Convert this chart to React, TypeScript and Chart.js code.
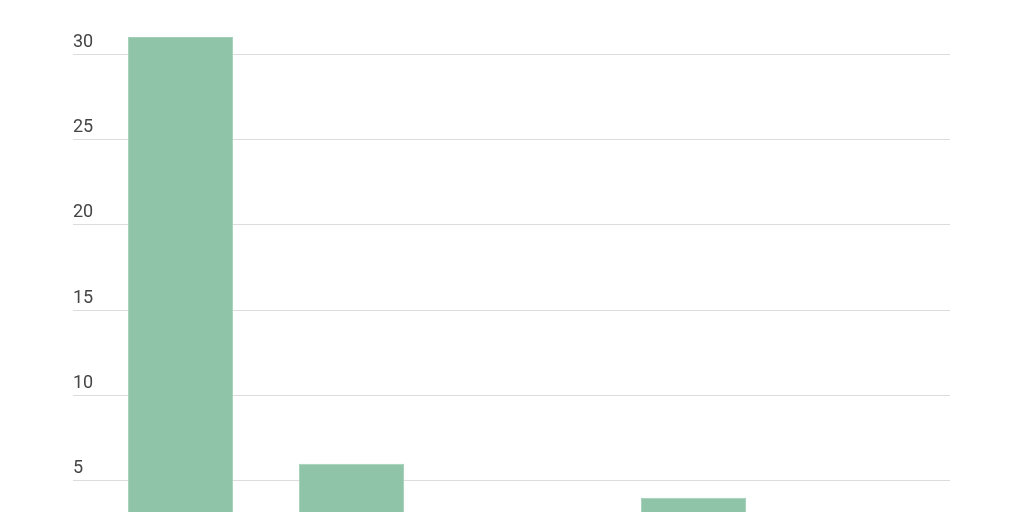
import React, { useEffect, useRef } from "react";
import { Chart, registerables } from "chart.js";

Chart.register(...registerables);

const categories = ["A", "B", "C", "D", "E"];
const values = [31, 6, 0, 4, 0];
const yMin = 0;
const yMax = 32;
const yStep = 5;

export default function App() {
  const ref = useRef<HTMLCanvasElement | null>(null);
  useEffect(() => {
    if (!ref.current) return;
    const chart = new Chart(ref.current, {
      type: "bar",
      data: {
        labels: categories,
        datasets: [
          {
            data: values,
            backgroundColor: "#8fc4a8",
            borderColor: "#a3cfb7",
            borderWidth: 1,
            barPercentage: 0.615,
            categoryPercentage: 1,
          },
        ],
      },
      options: {
        animation: false,
        responsive: false,
        maintainAspectRatio: false,
        layout: { padding: { left: 73, right: 74, top: 20, bottom: 34 } },
        plugins: { legend: { display: false }, tooltip: { enabled: false } },
        scales: {
          x: { display: false },
          y: {
            min: yMin,
            max: yMax,
            border: { display: false },
            grid: { color: "#dcdcdc", lineWidth: 1, tickLength: 22, drawTicks: true },
            afterFit: (scale: any) => {
              scale.width = 22;
            },
            ticks: {
              stepSize: yStep,
              includeBounds: false,
              crossAlign: "far",
              padding: 0,
              labelOffset: -12,
              color: "#454545",
              font: { family: "Roboto", size: 18 },
              callback: (v: any) => (v === 0 ? "" : String(v)),
            },
          },
        },
      },
    });
    return () => chart.destroy();
  }, []);
  return (
    <div style={{ position: "absolute", left: 0, top: 0, width: 1024, height: 600, background: "#fff" }}>
      <canvas ref={ref} width={1024} height={600} style={{ width: 1024, height: 600 }} />
    </div>
  );
}
